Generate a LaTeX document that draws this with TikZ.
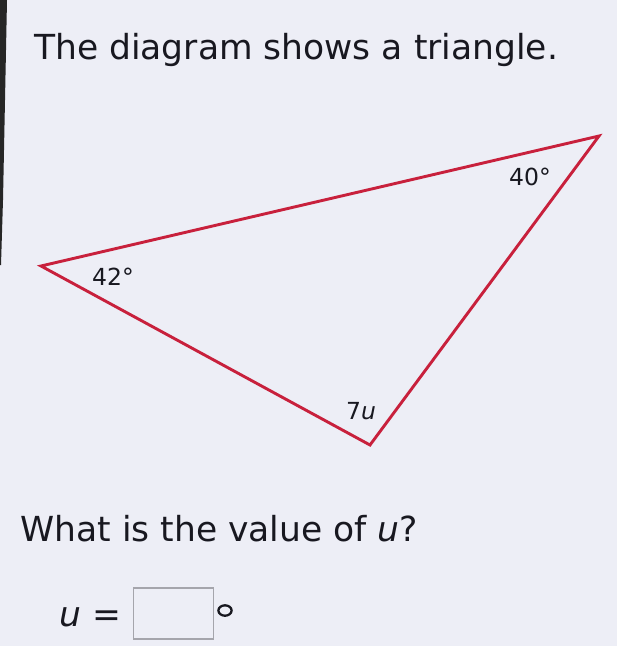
\documentclass[tikz,border=0pt]{standalone}
\usepackage{fontspec}
\setmainfont{DejaVu Sans}
\definecolor{bgc}{RGB}{237,238,246}
\definecolor{tri}{RGB}{200,32,60}
\definecolor{ink}{RGB}{24,24,32}
\definecolor{boxc}{RGB}{165,165,172}
\tikzset{
  bigtext/.style={inner sep=0pt, anchor=base west, text=ink, font=\fontsize{34.5}{40}\selectfont},
  anglabel/.style={inner sep=0pt, text=ink, font=\fontsize{23.5}{28}\selectfont},
  side/.style={draw=tri, line width=2.9pt, line join=miter},
}
\begin{document}
\begin{tikzpicture}[x=1pt,y=-1pt]
\fill[bgc] (0,0) rectangle (617,646);
\useasboundingbox (0,0) rectangle (617,646);
\fill[black!85] (0,0) -- (7,0) -- (3,200) -- (1,265) -- (0,265) -- cycle;
% title
\node[bigtext] (title) at (34,59.5) {The diagram shows a triangle.};
% triangle
\coordinate (L) at (41,266);
\coordinate (R) at (599,136);
\coordinate (B) at (370,445);
\draw[side] (L) -- (R) -- (B) -- cycle;
\node[anglabel] (a42) at (113,277) {42°};
\node[anglabel] (a40) at (530,177) {40°};
\node[anglabel] (a7u) at (361,411.5) {7\textit{u}};
% question
\node[bigtext] (q) at (20.5,541.7) {What is the value of \textit{u}?};
\node[bigtext] (ueq) at (59,626.5) {\textit{u}};
\node[bigtext] (eq) at (92,626.5) {=};
\draw[boxc, line width=1.5pt] (133.5,588) rectangle (213.5,639) node[inner sep=0pt] (ansbox) {};
\draw[ink, line width=2.3pt] (225,610.5) ellipse [x radius=6.6, y radius=5.2];
\coordinate (deg) at (225,610.5);
\end{tikzpicture}
\end{document}
